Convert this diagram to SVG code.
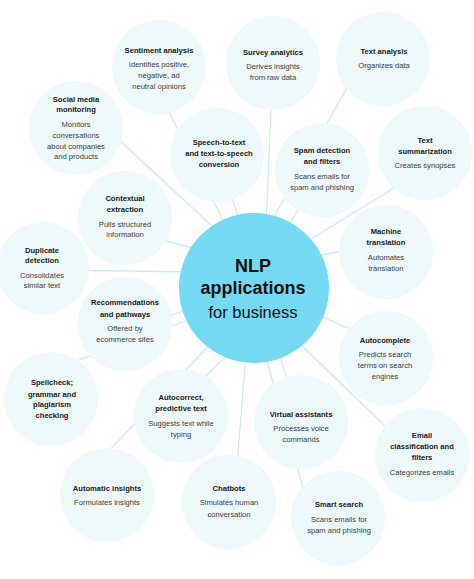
<svg xmlns="http://www.w3.org/2000/svg" width="474" height="579" viewBox="0 0 474 579">
<style>
.bg{fill:#ffffff}
.sat{fill:#eef9fc}
.hub{fill:#74d9f2}
.ln{stroke:#c9ecf4;stroke-width:1.3;fill:none}
text{font-family:"Liberation Sans",Arial,sans-serif;text-anchor:middle}
.t{font-size:7.6px;font-weight:bold;fill:#1b1b1b}
.d{font-size:7.6px;fill:#3d3d3d}
.hb{font-size:18px;font-weight:bold;fill:#111111}
.hr{font-size:16.5px;fill:#111111}
</style>
<rect class="bg" x="0" y="0" width="474" height="579"/>
<g id="connectors">
<line class="ln" x1="163" y1="100" x2="244" y2="262"/>
<line class="ln" x1="217" y1="155" x2="250" y2="250"/>
<line class="ln" x1="273" y1="62" x2="265" y2="250"/>
<line class="ln" x1="360" y1="65" x2="256" y2="248"/>
<line class="ln" x1="322" y1="170" x2="262" y2="270"/>
<line class="ln" x1="420" y1="172" x2="290" y2="252"/>
<line class="ln" x1="262" y1="268" x2="380" y2="243"/>
<line class="ln" x1="280" y1="297" x2="380" y2="343"/>
<line class="ln" x1="270" y1="315" x2="410" y2="450"/>
<line class="ln" x1="262" y1="300" x2="300" y2="420"/>
<line class="ln" x1="258" y1="330" x2="318" y2="540"/>
<line class="ln" x1="250" y1="300" x2="236" y2="480"/>
<line class="ln" x1="250" y1="332" x2="190" y2="392"/>
<line class="ln" x1="235" y1="318" x2="105" y2="455"/>
<line class="ln" x1="205" y1="314" x2="60" y2="367"/>
<line class="ln" x1="130" y1="330" x2="200" y2="305"/>
<line class="ln" x1="45" y1="270" x2="200" y2="272"/>
<line class="ln" x1="125" y1="230" x2="200" y2="250"/>
<line class="ln" x1="90" y1="113" x2="225" y2="238"/>
</g>
<g id="n-sentiment"><circle class="sat" cx="159" cy="67" r="47"/>
<text class="t" x="159" y="53.3">Sentiment analysis</text>
<text class="d" x="159" y="67.3">Identifies positive,</text>
<text class="d" x="159" y="78.3">negative, ad</text>
<text class="d" x="159" y="89.3">neutral opinions</text></g>
<g id="n-survey"><circle class="sat" cx="273" cy="63" r="47"/>
<text class="t" x="273" y="55">Survey analytics</text>
<text class="d" x="273" y="69.3">Derives insights</text>
<text class="d" x="273" y="80">from raw data</text></g>
<g id="n-textanalysis"><circle class="sat" cx="383" cy="59" r="47"/>
<text class="t" x="384" y="54.3">Text analysis</text>
<text class="d" x="384" y="67.7">Organizes data</text></g>
<g id="n-social"><circle class="sat" cx="76" cy="128" r="47"/>
<text class="t" x="76" y="101.7">Social media</text>
<text class="t" x="76" y="112.3">monitoring</text>
<text class="d" x="76" y="126.7">Monitors</text>
<text class="d" x="76" y="137.7">conversations</text>
<text class="d" x="76" y="148.7">about companies</text>
<text class="d" x="76" y="159.3">and products</text></g>
<g id="n-speech"><circle class="sat" cx="217" cy="155" r="47"/>
<text class="t" x="219" y="145">Speech-to-text</text>
<text class="t" x="219" y="156">and text-to-speech</text>
<text class="t" x="219" y="166.7">conversion</text></g>
<g id="n-spam"><circle class="sat" cx="322" cy="170" r="47"/>
<text class="t" x="322" y="153.3">Spam detection</text>
<text class="t" x="322" y="164.3">and filters</text>
<text class="d" x="322" y="179">Scans emails for</text>
<text class="d" x="322" y="190">spam and phishing</text></g>
<g id="n-summarization"><circle class="sat" cx="425" cy="153" r="47"/>
<text class="t" x="425" y="142.7">Text</text>
<text class="t" x="425" y="154">summarization</text>
<text class="d" x="425" y="167.7">Creates synopses</text></g>
<g id="n-contextual"><circle class="sat" cx="125" cy="218" r="47"/>
<text class="t" x="125" y="201">Contextual</text>
<text class="t" x="125" y="212.3">extraction</text>
<text class="d" x="125" y="226.7">Pulls structured</text>
<text class="d" x="125" y="237.3">information</text></g>
<g id="n-duplicate"><circle class="sat" cx="43" cy="268" r="46"/>
<text class="t" x="42" y="252.7">Duplicate</text>
<text class="t" x="42" y="263.3">detection</text>
<text class="d" x="42" y="277.7">Consolidates</text>
<text class="d" x="42" y="288.3">similar text</text></g>
<g id="n-recommendations"><circle class="sat" cx="125" cy="324" r="47"/>
<text class="t" x="125" y="305">Recommendations</text>
<text class="t" x="125" y="316.7">and pathways</text>
<text class="d" x="125" y="330.7">Offered by</text>
<text class="d" x="125" y="341.7">ecommerce sites</text></g>
<g id="n-machine"><circle class="sat" cx="386" cy="252" r="47"/>
<text class="t" x="386" y="234.3">Machine</text>
<text class="t" x="386" y="245">translation</text>
<text class="d" x="386" y="260">Automates</text>
<text class="d" x="386" y="270.7">translation</text></g>
<g id="n-autocomplete"><circle class="sat" cx="386" cy="358" r="47"/>
<text class="t" x="385" y="343.3">Autocomplete</text>
<text class="d" x="385" y="357.3">Predicts search</text>
<text class="d" x="385" y="368.3">terms on search</text>
<text class="d" x="385" y="379">engines</text></g>
<g id="n-spellcheck"><circle class="sat" cx="51" cy="399" r="47"/>
<text class="t" x="52" y="385">Spellcheck;</text>
<text class="t" x="52" y="396.7">grammar and</text>
<text class="t" x="52" y="407.3">plagiarism</text>
<text class="t" x="52" y="418.3">checking</text></g>
<g id="n-autocorrect"><circle class="sat" cx="181" cy="416" r="47"/>
<text class="t" x="181" y="400">Autocorrect,</text>
<text class="t" x="181" y="411">predictive text</text>
<text class="d" x="181" y="425.7">Suggests text while</text>
<text class="d" x="181" y="436.7">typing</text></g>
<g id="n-virtual"><circle class="sat" cx="301" cy="422" r="47"/>
<text class="t" x="301" y="416.7">Virtual assistants</text>
<text class="d" x="301" y="431">Processes voice</text>
<text class="d" x="301" y="441.7">commands</text></g>
<g id="n-email"><circle class="sat" cx="422" cy="455" r="47"/>
<text class="t" x="422" y="438.3">Email</text>
<text class="t" x="422" y="449.3">classification and</text>
<text class="t" x="422" y="460">filters</text>
<text class="d" x="422" y="475">Categorizes emails</text></g>
<g id="n-insights"><circle class="sat" cx="107" cy="495" r="47"/>
<text class="t" x="107" y="490.7">Automatic insights</text>
<text class="d" x="107" y="505">Formulates insights</text></g>
<g id="n-chatbots"><circle class="sat" cx="229" cy="502" r="47"/>
<text class="t" x="229" y="490.7">Chatbots</text>
<text class="d" x="229" y="505">Simulates human</text>
<text class="d" x="229" y="516.7">conversation</text></g>
<g id="n-smartsearch"><circle class="sat" cx="338" cy="518" r="47"/>
<text class="t" x="339" y="507.3">Smart search</text>
<text class="d" x="339" y="521.7">Scans emails for</text>
<text class="d" x="339" y="532.7">spam and phishing</text></g>
<g id="n-hub"><circle class="hub" cx="254" cy="288" r="75"/>
<text class="hb" x="253" y="272">NLP</text>
<text class="hb" x="253" y="294">applications</text>
<text class="hr" x="253" y="318">for business</text></g>
</svg>
